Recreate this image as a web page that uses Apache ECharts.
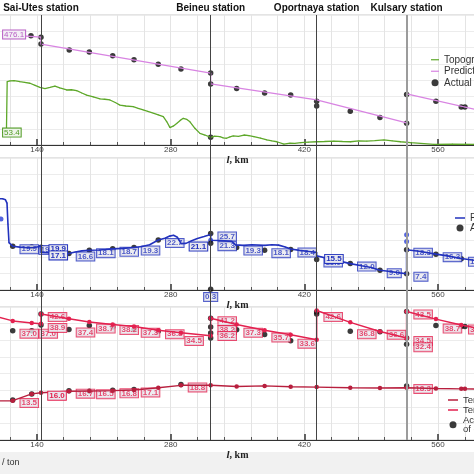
<!DOCTYPE html>
<html>
<head>
<meta charset="utf-8">
<script src="https://cdn.jsdelivr.net/npm/echarts@6/dist/echarts.min.js"></script>
<style>
html, body { margin: 0; padding: 0; background: #fff; }
#chart { width: 474px; height: 474px; }
</style>
</head>
<body>
<div id="chart"></div>
<script>
// stations along the pipeline (km)
const stationKm = [144.2, 321.9, 432.9, 527.1];
const stationNames = ['Sai-Utes station', 'Beineu station', 'Oportnaya station', 'Kulsary station'];
const xTickLabels = [140, 280, 420, 560];

// panel 1: heads, m
const topo = [[104, 53.4], [108, 56], [108.3, 57], [108.8, 273], [111.7, 276], [116, 277], [122.2, 273], [127, 270],
  [132.7, 266], [138, 257], [143.1, 248], [148.4, 243], [153.6, 248], [158.8, 254], [164, 246], [171.1, 237],
  [176, 238], [181.6, 234], [187, 224], [192, 215], [199, 207], [206, 199], [211, 197], [216.4, 194], [222, 183],
  [226.9, 172], [233, 168], [240.8, 165], [246, 158], [251.3, 151], [256, 145], [261.8, 137], [267, 130],
  [272.3, 122], [276, 100], [279.3, 75], [283, 82], [286.3, 93], [290, 106], [293.2, 115], [297, 110],
  [300.2, 100], [305.4, 72], [310.7, 50], [315.9, 43], [321.9, 33], [326, 38], [331.6, 36], [335, 31],
  [338.6, 29], [342, 35], [345.5, 39], [351, 37], [356.8, 43], [362, 40], [367.2, 36], [374, 30], [380.8, 22],
  [386, 18], [391.3, 14], [398.6, 4], [405, 8], [410, 7], [416.4, 10], [424, 12], [432.9, 14], [441, 15],
  [451, 17], [460, 15], [468.5, 14], [477, 18], [485.5, 17], [494, 19], [503.4, 22], [512, 18], [520.8, 14],
  [531.3, 10], [541.8, 7], [555.7, 3], [575, 4], [597.6, 3], [616, 3]];
const predHead = [[104, 476.1], [144.2, 465], [144.2, 435], [321.9, 310], [321.9, 263], [432.9, 194],
  [527.1, 95], [527.1, 220], [616, 138]];
const actHead = [[133.7, 471], [144.2, 464], [144.2, 435], [173.8, 409], [194.8, 401], [219.3, 385],
  [241.6, 367], [267, 348], [290.8, 327], [321.9, 310], [321.9, 263], [321.9, 33], [349.1, 243], [378.4, 224],
  [405.7, 215], [432.9, 188], [432.9, 168], [468.1, 145], [499.2, 119], [527.1, 94], [527.1, 218],
  [557.8, 188], [584.3, 164], [588.2, 164]];

// panel 2: pressure
const predP = [[95, 41.4], [104, 41.5], [107, 41.0], [108.6, 39.5], [109.6, 30.0], [110.7, 21.5], [114.6, 19.9],
  [122, 19.5], [130, 19.2], [137, 19.3], [144.2, 19.9], [144.2, 17.1], [152, 17.0], [160, 16.6], [166, 16.4],
  [173.5, 16.6], [180, 17.3], [187, 17.8], [194.8, 18.1], [205, 18.2], [212, 18.4], [219.3, 18.7], [230, 18.9],
  [241.6, 19.3], [250, 19.8], [258, 20.6], [267, 22.7], [274, 23.5], [279, 24.5], [283, 24.9], [287, 24.0],
  [291, 21.1], [296, 21.2], [302, 22.4], [308, 23.4], [315, 24.3], [321.9, 25.2], [321.9, 22.6], [332, 22.5],
  [344, 22.1], [348, 20.5], [356, 20.3], [365, 20.6], [378.4, 20.3], [386, 20.6], [393, 20.4], [400, 19.5],
  [405.7, 18.6], [415, 18.0], [425, 17.5], [432.9, 17.1], [432.9, 15.5], [445, 14.3], [458, 13.0], [468.1, 12.0],
  [480, 11.0], [490, 10.2], [499.2, 9.0], [510, 8.4], [520, 7.8], [527.1, 7.4], [527.1, 18.3], [540, 17.6],
  [557.8, 16.3], [570, 15.5], [584.3, 14.3], [600, 13.4], [616, 12.6]];
const predPStations = [[102.3, 32.3], [321.9, 22.6], [527.1, 25.1], [527.1, 22.1]];
const actP = [[114.6, 19.9], [134.5, 19.5], [144.2, 19.4], [173.5, 16.6], [194.8, 18.1], [219.3, 18.7],
  [241.6, 19.3], [267, 22.7], [321.9, 25.7], [321.9, 21.3], [321.9, 0.3], [349.1, 19.3], [378.4, 18.1],
  [405.7, 18.4], [432.9, 13.9], [468.1, 12.0], [499.2, 9.0], [527.1, 7.4], [527.1, 18.3], [557.8, 16.3],
  [584.3, 14.2]];

// panel 3: temperatures
const groundT = [[95, 13.2], [114.6, 13.3], [134.5, 15.6], [144.2, 16.0], [173.5, 16.5], [194.8, 16.6],
  [219.3, 16.7], [241.6, 16.9], [267, 17.7], [290.8, 18.5], [321.9, 18.5], [349.1, 18.1], [378.4, 18.3],
  [405.7, 18.0], [432.9, 17.9], [468.1, 17.7], [499.2, 17.6], [527.1, 17.7], [557.8, 17.4], [584.3, 17.3],
  [588.2, 17.3], [616, 17.1]];
const oilT = [[95, 42.0], [114.6, 40.3], [134.5, 39.6], [144.2, 39.3], [144.2, 42.6], [173.5, 41.0],
  [194.8, 39.9], [219.3, 39.1], [241.6, 38.4], [267, 37.1], [290.8, 36.3], [321.9, 35.3], [321.9, 41.2],
  [349.1, 39.1], [378.4, 37.1], [405.7, 35.6], [432.9, 33.9], [432.9, 43.8], [468.1, 39.8], [499.2, 36.7],
  [527.1, 34.5], [527.1, 43.5], [557.8, 40.9], [584.3, 38.9], [616, 37.0]];
const actOilT = [[114.6, 37.0], [134.5, 37.0], [144.2, 42.6], [144.2, 38.9], [173.5, 37.4], [194.8, 38.7],
  [219.3, 38.2], [241.6, 37.3], [267, 36.8], [321.9, 34.5], [321.9, 41.2], [321.9, 38.2], [321.9, 36.2],
  [349.1, 37.3], [378.4, 35.7], [405.7, 33.6], [432.9, 43.3], [432.9, 42.6], [468.1, 36.8], [499.2, 36.6],
  [527.1, 43.5], [527.1, 34.5], [527.1, 32.4], [557.8, 38.7], [584.3, 38.4], [588.2, 38.4]];
const actGroundT = [[114.6, 13.5], [134.5, 15.6], [173.5, 16.7], [194.8, 16.5], [219.3, 16.8], [241.6, 17.1],
  [290.8, 18.8], [527.1, 18.3]];

const BLUE = '#2232bd';
const RED = '#e3214f';
const DARKRED = '#b81f3e';
const GREEN = '#5ea82a';
const VIOLET = '#d884e2';
const linePath = 'path://M0,0H20V3H0Z';

function valueLabel(color, distance) {
  return {
    show: true, position: 'right', distance: distance, offset: [0, 3],
    formatter: p => p.value[1].toFixed(1),
    color: color, fontSize: 8, fontWeight: 'bold', fontFamily: 'Arial',
    backgroundColor: '#e8e8ee', borderColor: color, borderWidth: 1,
    padding: [0, 1], lineHeight: 8
  };
}

function labelled(points, color, opts) {
  opts = opts || {};
  return points.map((p, i) => {
    if (opts.only && !opts.only.includes(i)) return p;
    if (opts.skip && opts.skip.includes(i)) return p;
    const lb = valueLabel(color, opts.distance || 5);
    if (opts.left && opts.left.includes(i)) lb.position = 'left';
    if (opts.bottom && opts.bottom.includes(i)) { lb.position = 'bottom'; lb.offset = [0, 0]; lb.distance = 1; }
    return { value: p, label: lb };
  });
}

// label on the first point only (value shown at the left edge)
function edgeLabel(points, color, bg) {
  return points.map((p, i) => i === 0 ? {
    value: p,
    label: {
      show: true, position: 'right', distance: 0, formatter: p[1].toFixed(1),
      color: color, fontSize: 8, fontFamily: 'Arial', backgroundColor: bg,
      borderColor: color, borderWidth: 1, padding: [0, 1], lineHeight: 8
    }
  } : p);
}

const gridBase = { left: -96.7, right: -97.7, show: true, borderColor: '#c8c8c8', borderWidth: 1, outerBoundsMode: 'none' };

function xAxisFor(gridIndex) {
  return {
    type: 'value', gridIndex: gridIndex, min: 0, max: 700, interval: 140,
    axisLine: { onZero: false, lineStyle: { color: '#333', width: 1 } },
    axisTick: { inside: true, length: 6, lineStyle: { color: '#333', width: 1.5 } },
    minorTick: { show: true, splitNumber: 5, length: 3, lineStyle: { color: '#555' } },
    splitLine: { show: true, lineStyle: { color: '#e4e4e4' } },
    minorSplitLine: { show: true, lineStyle: { color: '#e4e4e4' } },
    axisLabel: {
      margin: 1, fontSize: 8, color: '#444', fontFamily: 'Arial',
      formatter: v => xTickLabels.includes(v) ? String(v) : ''
    },
    name: '{i|l}{n|, km}', nameLocation: 'middle', nameGap: 1,
    nameTextStyle: {
      rich: {
        i: { fontStyle: 'italic', fontWeight: 'bold', fontFamily: 'Liberation Serif', fontSize: 11, color: '#222' },
        n: { fontWeight: 'bold', fontFamily: 'Liberation Serif', fontSize: 10, color: '#222' }
      }
    }
  };
}

function yAxisFor(gridIndex, max, interval) {
  return {
    type: 'value', gridIndex: gridIndex, min: 0, max: max, interval: interval,
    axisLine: { show: false }, axisTick: { show: false }, axisLabel: { show: false },
    splitLine: { show: true, lineStyle: { color: '#ececec' } }
  };
}

const chart = echarts.init(document.getElementById('chart'), null, { renderer: 'canvas' });
const option = {
  animation: false,
  backgroundColor: '#fff',
  grid: [
    Object.assign({ top: 15, height: 130 }, gridBase),
    Object.assign({ top: 158, height: 132 }, gridBase),
    Object.assign({ top: 307, height: 133 }, gridBase),
    { left: -96.7, right: -97.7, top: 15, height: 425, show: false, outerBoundsMode: 'none' }
  ],
  xAxis: [xAxisFor(0), xAxisFor(1), xAxisFor(2),
    { type: 'value', gridIndex: 3, min: 0, max: 700, show: false }],
  yAxis: [yAxisFor(0, 560, 70), yAxisFor(1, 60, 7.5), yAxisFor(2, 45, 5.625),
    { type: 'value', gridIndex: 3, min: 0, max: 1, show: false }],
  legend: [
    {
      orient: 'vertical', left: 431, top: 54, itemWidth: 8, itemHeight: 7, itemGap: 0, padding: 0,
      textStyle: { fontSize: 10, color: '#333', fontFamily: 'Arial', lineHeight: 11.5 },
      data: [{ name: 'Topographic profile', icon: linePath }, { name: 'Predicted head', icon: linePath },
        { name: 'Actual head', icon: 'circle' }]
    },
    {
      orient: 'vertical', left: 455, top: 213, itemWidth: 10, itemHeight: 7, itemGap: 0, padding: 0,
      textStyle: { fontSize: 10, color: '#333', fontFamily: 'Arial', lineHeight: 9.6 },
      data: [{ name: 'Predicted pressure', icon: linePath }, { name: 'Actual pressure', icon: 'circle' }]
    },
    {
      orient: 'vertical', left: 448, top: 395, itemWidth: 10, itemHeight: 7, itemGap: 0, padding: 0,
      textStyle: { fontSize: 9.5, color: '#333', fontFamily: 'Arial', lineHeight: 9.4 },
      data: [{ name: 'Temperature of ground', icon: linePath }, { name: 'Temperature of oil', icon: linePath },
        { name: 'Actual temperature\nof oil', icon: 'circle' }]
    }
  ],
  graphic: [
    { type: 'rect', shape: { x: 0, y: 452, width: 474, height: 22 }, style: { fill: '#f1f1f1' }, z: -1 },
    { type: 'text', left: 2, top: 458, style: { text: '/ ton', fontSize: 9, fill: '#333', fontFamily: 'Arial' } }
  ],
  series: [
    {
      name: 'stations', type: 'line', xAxisIndex: 3, yAxisIndex: 3, z: 1,
      data: stationKm.map(k => [k, 0]), symbol: 'none', lineStyle: { opacity: 0 }, silent: true,
      markLine: {
        silent: true, symbol: ['none', 'none'], animation: false,
        lineStyle: { color: '#444', width: 1, type: 'solid' },
        label: { show: true, position: 'end', formatter: '{b}', distance: 2, color: '#111',
          fontSize: 10, fontWeight: 'bold', fontFamily: 'Arial' },
        emphasis: { disabled: true },
        data: stationKm.map((k, i) => i === 3
          ? { xAxis: k, name: stationNames[i], lineStyle: { color: '#9c9c9c', width: 2, type: 'solid' } }
          : { xAxis: k, name: stationNames[i] })
      }
    },
    {
      name: 'Topographic profile', type: 'line', xAxisIndex: 0, yAxisIndex: 0, color: GREEN,
      data: edgeLabel(topo, '#4f9a22', '#eef4ea'), symbol: 'circle', symbolSize: 1, showSymbol: true,
      lineStyle: { width: 1.3, color: GREEN }
    },
    {
      name: 'Predicted head', type: 'line', xAxisIndex: 0, yAxisIndex: 0, color: VIOLET,
      data: edgeLabel(predHead, '#b75ec4', '#f3eef5'), symbol: 'circle', symbolSize: 1, showSymbol: true,
      lineStyle: { width: 1.3, color: VIOLET }
    },
    {
      name: 'Actual head', type: 'scatter', xAxisIndex: 0, yAxisIndex: 0, color: '#0a0a0a',
      data: actHead, symbolSize: 5.5
    },
    {
      name: 'Predicted pressure', type: 'line', xAxisIndex: 1, yAxisIndex: 1, color: BLUE,
      data: labelled(predP, BLUE, { only: [10, 11, 31, 51], distance: 8 }), symbol: 'circle', symbolSize: 1,
      showSymbol: true, lineStyle: { width: 1.6, color: BLUE }
    },
    {
      name: 'Pressure at stations', type: 'scatter', xAxisIndex: 1, yAxisIndex: 1, color: '#2a3fd6',
      data: predPStations, symbolSize: 5
    },
    {
      name: 'Actual pressure', type: 'scatter', xAxisIndex: 1, yAxisIndex: 1, color: '#0a0a0a',
      data: labelled(actP, BLUE, { skip: [2], bottom: [10] }), symbolSize: 5.5
    },
    {
      name: 'Temperature of ground', type: 'line', xAxisIndex: 2, yAxisIndex: 2, color: DARKRED,
      data: labelled(groundT, RED, { only: [3] }), symbol: 'circle', symbolSize: 4.5,
      lineStyle: { width: 1.4, color: DARKRED }
    },
    {
      name: 'Temperature of oil', type: 'line', xAxisIndex: 2, yAxisIndex: 2, color: RED,
      data: oilT, symbol: 'circle', symbolSize: 4.5, lineStyle: { width: 1.5, color: RED }
    },
    {
      name: 'Actual temperature\nof oil', type: 'scatter', xAxisIndex: 2, yAxisIndex: 2, color: '#0a0a0a',
      data: labelled(actOilT, RED, { skip: [16, 25], left: [9] }).concat(labelled(actGroundT, RED, { skip: [1] })),
      symbolSize: 5.5
    }
  ]
};
chart.setOption(option);
window.addEventListener('resize', function() {
  chart.resize();
});
</script>
</body>
</html>
